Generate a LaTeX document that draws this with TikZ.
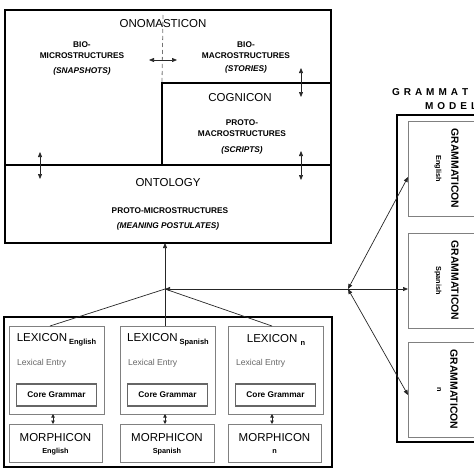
\documentclass[tikz,border=0pt]{standalone}
\usepackage{fontspec}
\setmainfont{Liberation Sans}
\usetikzlibrary{arrows.meta,fit}
\begin{document}
\begin{tikzpicture}[x=1pt,y=-1pt,
  every node/.style={inner sep=0pt, outer sep=0pt},
  thickbox/.style={draw=black, line width=2pt},
  heavybox/.style={draw=black, line width=2.8pt},
  graybox/.style={draw=black!50, line width=0.9pt},
  bigtxt/.style={font=\fontsize{11.5}{12}\selectfont},
  smalltxt/.style={font=\bfseries\fontsize{8.3}{9}\selectfont},
  smallit/.style={font=\bfseries\itshape\fontsize{8.3}{9}\selectfont},
  tinytxt/.style={font=\bfseries\fontsize{7.3}{8}\selectfont},
  conn/.style={draw=black!85, line width=0.7pt},
  >={Triangle[length=5pt,width=4pt]}]
\useasboundingbox (0,0) rectangle (474,474);
\clip (0,0) rectangle (474,474);

% ---------- upper block ----------
\node[thickbox, fit={(5,10) (331,243)}] (top) {};
\node[thickbox, fit={(162,83) (331,165)}] (cog) {};
\draw[thickbox] (top.west |- 0,165) -- (top.east |- 0,165);
\draw[draw=black!55, dashed, line width=0.8pt, dash pattern=on 4pt off 3pt] (163,15) -- (cog.north west);

\node[bigtxt] (onom) at (163,24) {ONOMASTICON};
\node[smalltxt] (bio1) at (82,45) {BIO-};
\node[smalltxt] (bio2) at (82,56) {MICROSTRUCTURES};
\node[smallit] (snap) at (82,71) {(SNAPSHOTS)};
\node[smalltxt] (bio3) at (246,45) {BIO-};
\node[smalltxt] (bio4) at (246,56) {MACROSTRUCTURES};
\node[smallit] (stor) at (246,69) {(STORIES)};
\node[bigtxt] (cogt) at (240,98) {COGNICON};
\node[smalltxt] (pro1) at (242,123) {PROTO-};
\node[smalltxt] (pro2) at (242,134) {MACROSTRUCTURES};
\node[smallit] (scr) at (242,150) {(SCRIPTS)};
\node[bigtxt] (onto) at (168,183) {ONTOLOGY};
\node[smalltxt] (pmic) at (170,211) {PROTO-MICROSTRUCTURES};
\node[smallit] (mean) at (168,226) {(MEANING POSTULATES)};

\coordinate (h1) at (149,60); \coordinate (h2) at (177,60);
\draw[conn,<->] (h1) -- (h2);
\coordinate (v1) at (301,68); \coordinate (v2) at (301,97);
\draw[conn,<->] (v1) -- (v2);
\coordinate (v3) at (301,151); \coordinate (v4) at (301,180);
\draw[conn,<->] (v3) -- (v4);
\coordinate (v5) at (40,152); \coordinate (v6) at (40,179);
\draw[conn,<->] (v5) -- (v6);

% ---------- lower block ----------
\node[heavybox, fit={(4,317) (332,467)}] (bot) {};
\node[graybox, fit={(9,326) (104,414)}] (lexE) {};
\node[graybox, fit={(120,326) (215,414)}] (lexS) {};
\node[graybox, fit={(228,326) (323,414)}] (lexN) {};

\node[bigtxt] (lexEt) at (56.5,340) {LEXICON\,\raisebox{-3.5pt}{\fontsize{7.5}{8}\bfseries English}};
\node[bigtxt] (lexSt) at (168,340) {LEXICON\,\raisebox{-3.5pt}{\fontsize{7.5}{8}\bfseries Spanish}};
\node[bigtxt] (lexNt) at (276,340) {LEXICON \raisebox{-3.5pt}{\fontsize{7.5}{8}\bfseries n}};

\foreach \nm/\xa/\xb in {E/13/100, S/124/211, N/232/319}{
  \node[draw=black!50, line width=0.6pt, double=white, double distance=1.2pt,
        fit={(\xa,356) (\xb,409)}] (ent\nm) {};
  \node[anchor=west, text=black!60, font=\fontsize{8.6}{9}\selectfont] (entt\nm) at (\xa+4,363) {Lexical Entry};
  \node[draw=black!60, line width=1.1pt, fit={(\xa+3.5,384) (\xb-3.5,406)}] (core\nm) {};
  \node[smalltxt] (coret\nm) at (core\nm) {Core Grammar};
}

\node[graybox, fit={(9,424) (102,462)}] (morE) {};
\node[graybox, fit={(120,424) (214,462)}] (morS) {};
\node[graybox, fit={(228,424) (321,462)}] (morN) {};
\node[bigtxt] (morEt) at (55.5,438) {MORPHICON};
\node[tinytxt] (morEl) at (55.5,452) {English};
\node[bigtxt] (morSt) at (167,438) {MORPHICON};
\node[tinytxt] (morSl) at (167,452) {Spanish};
\node[bigtxt] (morNt) at (274.5,438) {MORPHICON};
\node[tinytxt] (morNl) at (274.5,452) {n};

\draw[conn,line width=0.9pt,{Triangle[length=3.5pt,width=3.5pt]}-{Triangle[length=3.5pt,width=3.5pt]}] (lexE.south -| 53,0) -- (morE.north -| 53,0);
\draw[conn,line width=0.9pt,{Triangle[length=3.5pt,width=3.5pt]}-{Triangle[length=3.5pt,width=3.5pt]}] (lexS.south -| 165,0) -- (morS.north -| 165,0);
\draw[conn,line width=0.9pt,{Triangle[length=3.5pt,width=3.5pt]}-{Triangle[length=3.5pt,width=3.5pt]}] (lexN.south -| 272,0) -- (morN.north -| 272,0);

% ---------- grammaticon block ----------
\node[heavybox, fit={(397,115) (500,442)}] (gram) {};
\node[graybox, fit={(408,121) (490,216)}] (gE) {};
\node[graybox, fit={(408,233) (490,328)}] (gS) {};
\node[graybox, fit={(408,342) (490,437)}] (gN) {};
\node[font=\bfseries\fontsize{10.4}{11}\selectfont, rotate=-90] (gEt) at (gE.center -| 455,0) {GRAMMATICON};
\node[tinytxt, rotate=-90] (gEl) at (gE.center -| 438,0) {English};
\node[font=\bfseries\fontsize{10.4}{11}\selectfont, rotate=-90] (gSt) at (gS.center -| 455,0) {GRAMMATICON};
\node[tinytxt, rotate=-90] (gSl) at (gS.center -| 438,0) {Spanish};
\node[font=\bfseries\fontsize{10.4}{11}\selectfont, rotate=-90] (gNt) at (gN.center -| 454,0) {GRAMMATICON};
\node[tinytxt, rotate=-90] (gNl) at (gN.center -| 439,0) {n};

\node[anchor=west, font=\bfseries\fontsize{10}{11}\selectfont] (tit1) at (392,92) {G\kern4pt R\kern4pt A\kern4pt M\kern4pt M\kern4pt A\kern4pt T};
\node[anchor=west, font=\bfseries\fontsize{10}{11}\selectfont] (tit2) at (425,106) {M\kern4pt O\kern4pt D\kern4pt E\kern4pt L};

% ---------- connectors ----------
\coordinate (J) at (165,289);
\coordinate (P) at (348,289);
\coordinate (eE) at (50,326);
\coordinate (eN) at (272,326);
\draw[conn] (lexS.north -| J) -- (J);
\draw[conn,->] (J) -- (top.south -| J);
\draw[conn] (J) -- (eE);
\draw[conn] (J) -- (eN);
\draw[conn,<->] (J) -- (gS.west |- J);
\draw[conn,<->] (P) -- (gE.west |- 0,177);
\draw[conn,<->] (P) -- (gN.west |- 0,395);
\end{tikzpicture}
\end{document}
